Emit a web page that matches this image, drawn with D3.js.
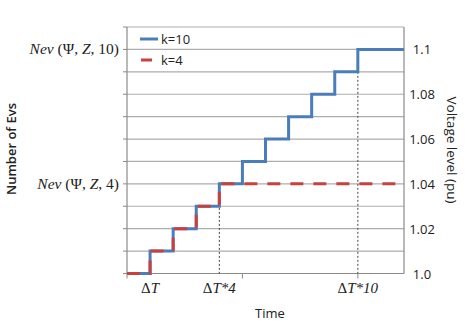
<!DOCTYPE html>
<html>
<head>
<meta charset="utf-8">
<script src="https://cdn.jsdelivr.net/npm/d3@7.9.0/dist/d3.min.js"></script>
<style>
  body { margin: 0; background: #fff; }
  text { font-family: "Open Sans", "Noto Sans", sans-serif; fill: #222; }
  .math { font-family: "Liberation Serif", "DejaVu Serif", serif; }
</style>
</head>
<body>
<svg id="chart" width="474" height="331"></svg>
<script>
// step data: time (in ΔT units) and voltage level
const timesK10 = [0, 1, 2, 3, 4, 5, 6, 7, 8, 9, 10, 12];
const voltK10  = [1.00, 1.01, 1.02, 1.03, 1.04, 1.05, 1.06, 1.07, 1.08, 1.09, 1.10, 1.10];
const timesK4  = [0, 1, 2, 3, 4, 12];
const voltK4   = [1.00, 1.01, 1.02, 1.03, 1.04, 1.04];

const gridLevels = [1.00, 1.01, 1.02, 1.03, 1.04, 1.05, 1.06, 1.07, 1.08, 1.09, 1.10, 1.11];
const rightTicks = [1.00, 1.02, 1.04, 1.06, 1.08, 1.10];
const rightTickLabels = ["1.0", "1.02", "1.04", "1.06", "1.08", "1.1"];
const leftLabelLevels = [1.10, 1.04];
const leftLabelK = ["10", "4"];
const xTickTimes = [1, 4, 10];
const xTickLabels = ["", "*4", "*10"];
const xAxisMarks = [0, 5, 10];
const dropLines = [{ t: 4, top: 1.04 }, { t: 10, top: 1.09 }];

const blue = "#4a7ebb", red = "#c8413f";

const svg = d3.select("#chart");
const x = d3.scaleLinear().domain([0, 12]).range([127, 404]);
const y = d3.scaleLinear().domain([1.0, 1.11]).range([273.5, 27]);

// gridlines
svg.append("g").selectAll("line").data(gridLevels).join("line")
  .attr("x1", x(0)).attr("x2", x(12))
  .attr("y1", d => y(d)).attr("y2", d => y(d))
  .attr("stroke", "#adadad").attr("stroke-width", 1.2);

// left spine with ticks
svg.append("line").attr("x1", x(0)).attr("x2", x(0)).attr("y1", y(1.11)).attr("y2", y(1.0))
  .attr("stroke", "#8a8a8a").attr("stroke-width", 1.2);
svg.append("g").selectAll("line").data(gridLevels).join("line")
  .attr("x1", x(0) - 4).attr("x2", x(0))
  .attr("y1", d => y(d)).attr("y2", d => y(d))
  .attr("stroke", "#8a8a8a").attr("stroke-width", 1);

// right spine
svg.append("line").attr("x1", x(12)).attr("x2", x(12)).attr("y1", y(1.11)).attr("y2", y(1.0))
  .attr("stroke", "#8a8a8a").attr("stroke-width", 1.2);

// bottom axis
svg.append("line").attr("x1", x(0)).attr("x2", x(12)).attr("y1", y(1.0)).attr("y2", y(1.0))
  .attr("stroke", "#8a8a8a").attr("stroke-width", 1.2);
svg.append("g").selectAll("line").data(xAxisMarks).join("line")
  .attr("x1", d => x(d)).attr("x2", d => x(d))
  .attr("y1", y(1.0)).attr("y2", y(1.0) + 5)
  .attr("stroke", "#8a8a8a").attr("stroke-width", 1);

// dotted drop lines
svg.append("g").selectAll("line").data(dropLines).join("line")
  .attr("x1", d => x(d.t)).attr("x2", d => x(d.t))
  .attr("y1", d => y(d.top)).attr("y2", y(1.0))
  .attr("stroke", "#444").attr("stroke-width", 1).attr("stroke-dasharray", "2,2");

// step lines
const stepLine = d3.line().curve(d3.curveStepAfter);
svg.append("path")
  .attr("d", stepLine(timesK10.map((t, i) => [x(t), y(voltK10[i])])))
  .attr("fill", "none").attr("stroke", blue).attr("stroke-width", 3);
svg.append("path")
  .attr("d", stepLine(timesK4.map((t, i) => [x(t), y(voltK4[i])])))
  .attr("fill", "none").attr("stroke", red).attr("stroke-width", 3)
  .attr("stroke-dasharray", "13,10");

// right tick labels
svg.append("g").selectAll("text").data(rightTicks).join("text")
  .attr("x", 422).attr("y", d => y(d) + 5)
  .attr("text-anchor", "middle").attr("font-size", 13)
  .text((d, i) => rightTickLabels[i]);

// left math labels
const leftG = svg.append("g").selectAll("text").data(leftLabelLevels).join("text")
  .attr("class", "math")
  .attr("x", 119).attr("y", d => y(d) + 5)
  .attr("text-anchor", "end").attr("font-size", 15.5);
leftG.each(function (d, i) {
  const t = d3.select(this);
  t.append("tspan").attr("font-style", "italic").text("Nev");
  t.append("tspan").text(" (Ψ, ");
  t.append("tspan").attr("font-style", "italic").text("Z");
  t.append("tspan").text(", " + leftLabelK[i] + ")");
});

// x tick labels
const xg = svg.append("g").selectAll("text").data(xTickTimes).join("text")
  .attr("class", "math")
  .attr("x", d => x(d)).attr("y", 293)
  .attr("text-anchor", "middle").attr("font-size", 15).attr("font-style", "italic");
xg.each(function (d, i) {
  const t = d3.select(this);
  t.append("tspan").attr("font-style", "normal").text("Δ");
  t.append("tspan").text("T" + xTickLabels[i]);
});

// axis titles
svg.append("text").attr("x", 270).attr("y", 318).attr("text-anchor", "middle")
  .attr("font-size", 13).text("Time");
svg.append("text").attr("transform", "translate(16,149) rotate(-90)")
  .attr("text-anchor", "middle").attr("font-size", 13).attr("font-weight", 600)
  .text("Number of Evs");
svg.append("text").attr("transform", "translate(447,150) rotate(90)")
  .attr("text-anchor", "middle").attr("font-size", 13.5)
  .text("Voltage level (pu)");

// legend
const legendItems = [
  { label: "k=10", color: blue, x1: 140, x2: 158 },
  { label: "k=4", color: red, x1: 141, x2: 152 }
];
const lg = svg.append("g").selectAll("g").data(legendItems).join("g")
  .attr("transform", (d, i) => `translate(0,${39 + i * 21})`);
lg.append("line").attr("x1", d => d.x1).attr("x2", d => d.x2)
  .attr("stroke", d => d.color).attr("stroke-width", 3);
lg.append("text").attr("x", 161).attr("y", 5).attr("font-size", 13).text(d => d.label);
</script>
</body>
</html>
